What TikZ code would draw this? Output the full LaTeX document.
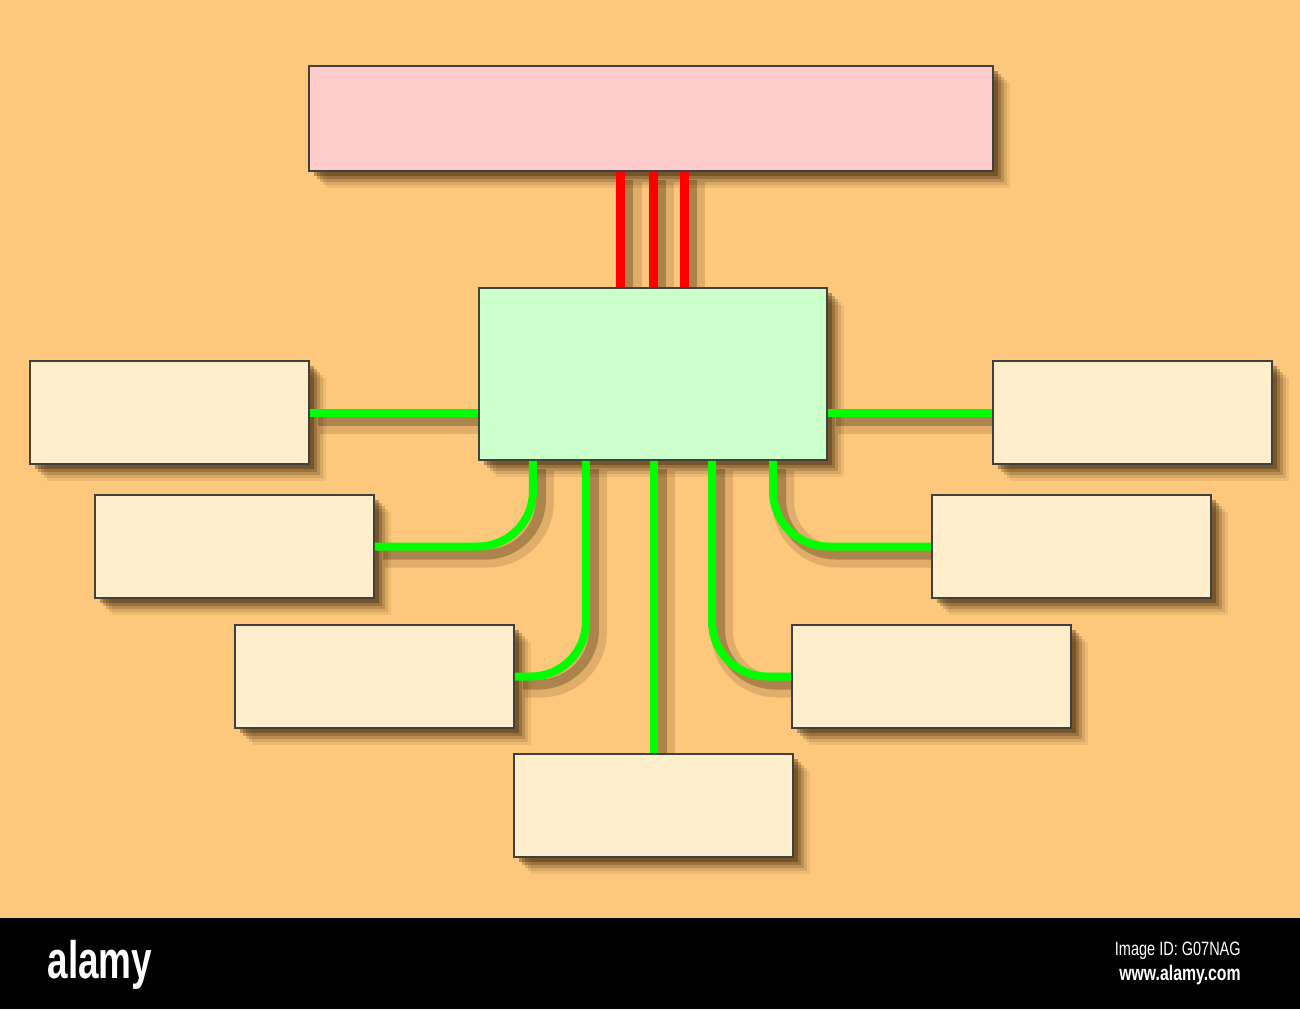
\documentclass[tikz,border=0pt]{standalone}
\usepackage{fontspec}
\setmainfont{Liberation Sans}
\usetikzlibrary{shadows}
\definecolor{peach}{RGB}{254,200,124}
\definecolor{lightpink}{RGB}{255,204,204}
\definecolor{lightgreen}{RGB}{204,255,204}
\definecolor{lightcream}{RGB}{255,238,204}
\definecolor{wiregreen}{RGB}{0,255,0}
\definecolor{wirered}{RGB}{255,0,0}
\definecolor{shadebrown}{RGB}{55,32,5}
\pgfdeclarelayer{back}
\pgfdeclarelayer{bg}
\pgfsetlayers{back,bg,main}

% all connectors, drawn as shadow and as line
\newcommand{\connectors}[2]{%
    \draw[#1] (l1.east) -- (l1.east -| hub.west);
    \draw[#1] (r1.west) -- (r1.west -| hub.east);
    \draw[#1] (bottom.north) -- (bottom.north |- hub.south);
    \draw[#1, rounded corners=0.55cm] ([xshift=-1.2cm]hub.south) |- (l2.east);
    \draw[#1, rounded corners=0.55cm] ([xshift=-0.67cm]hub.south) |- (l3.east);
    \draw[#1, rounded corners=0.55cm] ([xshift=0.59cm]hub.south) |- (r3.west);
    \draw[#1, rounded corners=0.55cm] ([xshift=1.2cm]hub.south) |- (r2.west);
    \foreach \dx in {-0.325,0,0.31}
        \draw[#2] ([xshift=\dx cm]hub.north) -- ([xshift=\dx cm]hub.north |- top.south);
}

\begin{document}
\begin{tikzpicture}[x=0.01cm, y=-0.01cm,
    box/.style={draw=black!75, line width=0.5pt, rectangle, inner sep=0pt,
        minimum width=2.79cm, minimum height=1.03cm, fill=lightcream,
        drop shadow={shadow xshift=0.17cm, shadow yshift=-0.17cm, fill=shadebrown, opacity=0.08},
        drop shadow={shadow xshift=0.14cm, shadow yshift=-0.14cm, fill=shadebrown, opacity=0.12},
        drop shadow={shadow xshift=0.11cm, shadow yshift=-0.11cm, fill=shadebrown, opacity=0.18},
        drop shadow={shadow xshift=0.08cm, shadow yshift=-0.08cm, fill=shadebrown, opacity=0.25},
        drop shadow={shadow xshift=0.05cm, shadow yshift=-0.05cm, fill=shadebrown, opacity=0.35}},
    link/.style={draw=wiregreen, line width=0.08cm},
    wire/.style={draw=wirered, line width=0.09cm},
    linkshadow/.style={draw=shadebrown, line width=0.1cm, opacity=0.3,
        transform canvas={shift={(0.08cm,-0.08cm)}}},
    linkshadowwide/.style={draw=shadebrown, line width=0.22cm, opacity=0.15,
        transform canvas={shift={(0.1cm,-0.1cm)}}}]
    \begin{pgfonlayer}{back}
        \fill[peach] (0,0) rectangle (1300,918);
        \fill[black] (0,918) rectangle (1300,1009);
    \end{pgfonlayer}
    \useasboundingbox (0,0) rectangle (1300,1009);

    \node[box, fill=lightpink, minimum width=6.84cm, minimum height=1.05cm] (top) at (651,118.5) {};
    \node[box, fill=lightgreen, minimum width=3.48cm, minimum height=1.72cm] (hub) at (653,374) {};
    \node[box] (l1) at (169.5,412.5) {};
    \node[box] (l2) at (234.5,546.5) {};
    \node[box] (l3) at (374.5,676.5) {};
    \node[box] (bottom) at (653.5,805.5) {};
    \node[box] (r1) at (1132.5,412.5) {};
    \node[box] (r2) at (1071.5,546.5) {};
    \node[box] (r3) at (931.5,676.5) {};

    \begin{pgfonlayer}{bg}
        \connectors{linkshadowwide}{linkshadowwide}
        \connectors{linkshadow}{linkshadow}
    \end{pgfonlayer}
    \connectors{link}{wire}

    \node[text=white, font=\bfseries\fontsize{15}{15}\selectfont, xscale=0.7, transform shape] (brand) at (100,965) {alamy};
    \node[text=white, font=\fontsize{5.5}{6}\selectfont, xscale=0.75, transform shape, anchor=east] (imgid) at (1250,951) {Image ID: G07NAG};
    \node[text=white, font=\bfseries\fontsize{6}{7}\selectfont, xscale=0.75, transform shape, anchor=east] (site) at (1250,975) {www.alamy.com};
\end{tikzpicture}
\end{document}
